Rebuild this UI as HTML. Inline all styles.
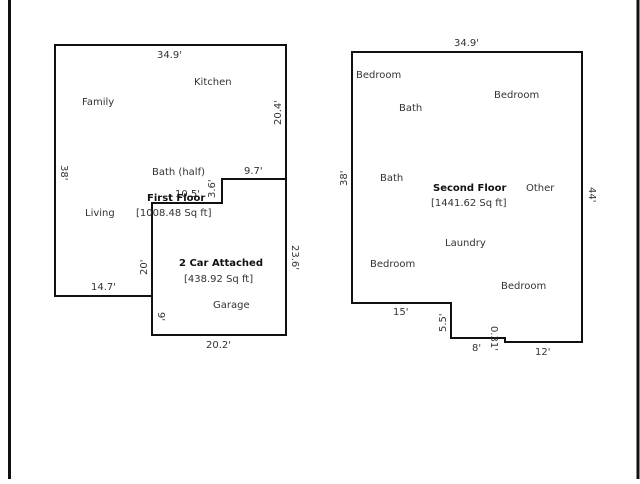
<!DOCTYPE html>
<html><head><style>
body{margin:0;background:#fff;}
svg text{font-family:"DejaVu Sans","Liberation Sans",sans-serif;font-size:10px;fill:#333;}
.b{font-weight:bold;fill:#111;}
</style></head><body>
<svg width="640" height="479" xmlns="http://www.w3.org/2000/svg">
<rect width="640" height="479" fill="#fff"/>
<line x1="9.5" y1="0" x2="9.5" y2="479" stroke="#111" stroke-width="3"/>
<line x1="638" y1="0" x2="638" y2="479" stroke="#111" stroke-width="3"/>
<g fill="none" stroke="#111" stroke-width="2">
<polyline points="152,296 55,296 55,45 286,45 286,179"/>
<polygon points="286,179 222,179 222,203 152,203 152,335 286,335"/>
<polygon points="352,52 582,52 582,342 505,342 505,338 451,338 451,303 352,303"/>
</g>
<text x="157" y="58">34.9'</text>
<text x="194" y="85">Kitchen</text>
<text x="82" y="105">Family</text>
<text transform="translate(281,125) rotate(-90)">20.4'</text>
<text transform="translate(61,165) rotate(90)">38'</text>
<text x="152" y="175">Bath (half)</text>
<text x="244" y="174">9.7'</text>
<text x="175" y="197">10.5'</text>
<text transform="translate(215,198) rotate(-90)">3.6'</text>
<text x="147" y="201" class="b">First Floor</text>
<text x="85" y="216">Living</text>
<text x="136" y="216">[1008.48 Sq ft]</text>
<text transform="translate(292,245) rotate(90)">23.6'</text>
<text x="179" y="266" class="b">2 Car Attached</text>
<text x="184" y="282">[438.92 Sq ft]</text>
<text transform="translate(147,275) rotate(-90)">20'</text>
<text x="91" y="290">14.7'</text>
<text x="213" y="308">Garage</text>
<text transform="translate(158,312) rotate(90)">9'</text>
<text x="206" y="348">20.2'</text>
<text x="454" y="46">34.9'</text>
<text x="356" y="78">Bedroom</text>
<text x="494" y="98">Bedroom</text>
<text x="399" y="111">Bath</text>
<text x="380" y="181">Bath</text>
<text transform="translate(347,186) rotate(-90)">38'</text>
<text x="433" y="191" class="b">Second Floor</text>
<text x="526" y="191">Other</text>
<text transform="translate(589,187) rotate(90)">44'</text>
<text x="431" y="206">[1441.62 Sq ft]</text>
<text x="445" y="246">Laundry</text>
<text x="370" y="267">Bedroom</text>
<text x="501" y="289">Bedroom</text>
<text x="393" y="315">15'</text>
<text transform="translate(446,332) rotate(-90)">5.5'</text>
<text transform="translate(491,326) rotate(90)">0.31'</text>
<text x="472" y="351">8'</text>
<text x="535" y="355">12'</text>
</svg>
</body></html>
